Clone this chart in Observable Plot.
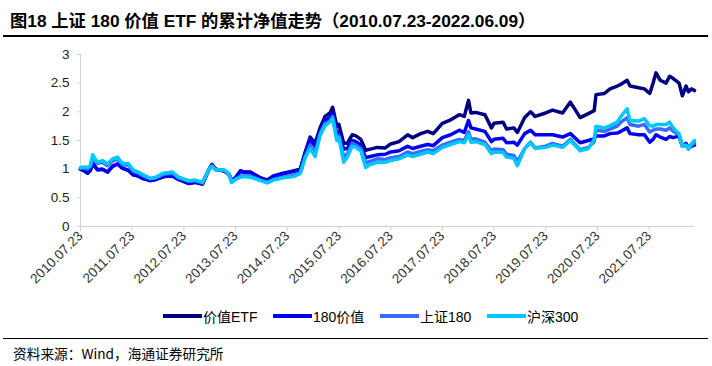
<!DOCTYPE html>
<html>
<head>
<meta charset="utf-8">
<script src="https://cdn.jsdelivr.net/npm/d3@7"></script>
<script src="https://cdn.jsdelivr.net/npm/@observablehq/plot@0.6"></script>
<style>
  html, body { margin: 0; padding: 0; background: #fff; }
  #page { position: relative; width: 712px; height: 366px; overflow: hidden; font-family: "Liberation Sans", Arial, "Noto Sans CJK SC", sans-serif; }
  #title { position: absolute; left: 10px; top: 7px; font-size: 17.3px; font-weight: bold; color: #000; white-space: nowrap; font-family: "Liberation Sans", Arial, "Noto Sans CJK SC", sans-serif; }
  #topline { position: absolute; left: 3px; right: 4px; top: 35px; height: 0; border-top: 2px solid #000; }
  #chart { position: absolute; left: 0; top: 0; }
  .leg { position: absolute; top: 308px; height: 16px; display: flex; align-items: center; font-size: 14px; color: #000; white-space: nowrap; font-family: "Liberation Sans", Arial, "Noto Sans CJK SC", sans-serif; }
  .sw { width: 39px; height: 4px; margin-right: 1px; }
  #botline { position: absolute; left: 3px; right: 4px; top: 338px; height: 0; border-top: 1.5px solid #000; }
  #source { position: absolute; left: 13px; top: 343px; font-size: 13.7px; color: #000; white-space: nowrap; font-family: "Noto Sans CJK SC", "Liberation Sans", sans-serif; }
</style>
</head>
<body>
<div id="page">
  <div id="title">图18 上证 180 价值 ETF 的累计净值走势（2010.07.23-2022.06.09）</div>
  <div id="topline"></div>
  <div id="chart"></div>
  <div id="legend"></div>
  <div id="botline"></div>
  <div id="source">资料来源：Wind，海通证券研究所</div>
</div>
<script>
const seriesNames = ["价值ETF", "180价值", "上证180", "沪深300"];
const seriesColors = ["#000080", "#0000F0", "#3A6BFF", "#00C8FF"];
const xTickDates = ["2010-07-23","2011-07-23","2012-07-23","2013-07-23","2014-07-23","2015-07-23","2016-07-23","2017-07-23","2018-07-23","2019-07-23","2020-07-23","2021-07-23"];
const yTicks = [0, 0.5, 1, 1.5, 2, 2.5, 3];

const dates = [
"2010-07-23","2010-08-20","2010-09-10","2010-10-01","2010-10-17","2010-11-20","2010-12-25","2011-01-30","2011-03-06","2011-04-10",
"2011-05-15","2011-06-26","2011-08-01","2011-09-05","2011-10-03","2011-11-30","2012-01-04","2012-03-01","2012-05-03","2012-06-15",
"2012-08-24","2012-10-12","2012-12-01","2013-01-13","2013-02-06","2013-03-03","2013-04-30","2013-06-04","2013-06-25","2013-07-23",
"2013-08-27","2013-09-20","2013-11-05","2014-01-14","2014-03-04","2014-04-16","2014-06-25","2014-09-04","2014-10-23","2014-11-27",
"2015-01-01","2015-02-05","2015-03-12","2015-04-16","2015-05-21","2015-06-09","2015-07-08","2015-07-23","2015-08-26","2015-09-20",
"2015-10-25","2015-11-20","2015-12-25","2016-01-28","2016-03-01","2016-04-20","2016-06-15","2016-07-23","2016-09-20","2016-11-20",
"2016-12-25","2017-02-20","2017-04-10","2017-05-20","2017-07-23","2017-09-20","2017-11-20","2017-12-25","2018-01-24","2018-02-10",
"2018-03-15","2018-05-20","2018-07-05","2018-07-23","2018-09-25","2018-10-20","2018-12-10","2019-01-04","2019-02-25","2019-04-08",
"2019-05-10","2019-07-23","2019-09-10","2019-11-20","2020-01-14","2020-03-23","2020-05-20","2020-06-30","2020-07-13","2020-09-10",
"2020-10-20","2020-12-10","2021-01-05","2021-02-18","2021-03-10","2021-05-10","2021-06-20","2021-07-28","2021-08-20","2021-09-10",
"2021-10-10","2021-11-20","2021-12-15","2022-01-10","2022-02-20","2022-03-15","2022-04-10","2022-04-27","2022-05-20","2022-06-09"
];

const etf = [
1.00,0.97,0.93,0.98,1.10,0.99,1.00,0.95,1.05,1.09,
1.02,0.98,0.90,0.88,0.84,0.80,0.82,0.87,0.88,0.82,
0.75,0.77,0.74,0.98,1.08,1.00,0.97,0.92,0.80,0.85,
0.97,0.95,0.95,0.85,0.81,0.88,0.93,0.97,1.00,1.30,
1.56,1.45,1.72,1.92,1.98,2.08,1.75,1.78,1.45,1.45,
1.60,1.58,1.52,1.33,1.35,1.38,1.37,1.44,1.48,1.60,
1.55,1.62,1.66,1.62,1.80,1.86,1.95,1.92,2.20,1.98,
1.99,1.95,1.72,1.80,1.82,1.70,1.72,1.64,1.90,2.00,
1.92,1.98,2.03,1.98,2.17,1.90,1.97,2.02,2.30,2.32,
2.40,2.45,2.48,2.55,2.45,2.42,2.40,2.32,2.50,2.68,
2.55,2.50,2.62,2.58,2.50,2.28,2.45,2.35,2.40,2.37
];

const v180 = [
1.00,0.97,0.93,0.98,1.10,0.99,1.00,0.95,1.05,1.09,
1.02,0.98,0.90,0.88,0.84,0.80,0.82,0.87,0.88,0.82,
0.75,0.77,0.74,0.98,1.08,1.00,0.97,0.92,0.80,0.85,
0.97,0.94,0.94,0.84,0.80,0.87,0.92,0.96,0.99,1.28,
1.52,1.40,1.66,1.85,1.90,1.98,1.62,1.65,1.35,1.36,
1.50,1.48,1.42,1.20,1.22,1.25,1.26,1.30,1.32,1.40,
1.36,1.40,1.43,1.41,1.55,1.60,1.68,1.64,1.85,1.72,
1.70,1.66,1.48,1.52,1.54,1.46,1.47,1.42,1.62,1.68,
1.60,1.60,1.60,1.56,1.62,1.46,1.50,1.53,1.58,1.58,
1.62,1.63,1.66,1.72,1.62,1.60,1.60,1.47,1.52,1.60,
1.56,1.52,1.57,1.55,1.58,1.40,1.45,1.38,1.40,1.42
];

const sz180 = [
1.02,1.02,1.00,1.05,1.20,1.10,1.12,1.06,1.14,1.18,
1.08,1.07,0.96,0.93,0.89,0.83,0.85,0.91,0.93,0.85,
0.79,0.80,0.76,0.98,1.06,0.99,0.98,0.92,0.78,0.83,
0.88,0.88,0.88,0.81,0.77,0.82,0.86,0.89,0.94,1.22,
1.42,1.28,1.62,1.80,1.84,1.92,1.55,1.58,1.22,1.26,
1.45,1.42,1.36,1.11,1.14,1.18,1.17,1.20,1.22,1.30,
1.27,1.31,1.34,1.32,1.42,1.47,1.52,1.50,1.65,1.52,
1.53,1.47,1.32,1.35,1.34,1.26,1.24,1.13,1.36,1.47,
1.37,1.40,1.45,1.40,1.52,1.34,1.38,1.48,1.68,1.66,
1.70,1.75,1.82,1.90,1.78,1.75,1.78,1.65,1.68,1.70,
1.70,1.68,1.72,1.66,1.60,1.40,1.42,1.35,1.42,1.45
];

const hs300 = [
1.03,1.04,1.03,1.06,1.25,1.12,1.15,1.09,1.18,1.21,
1.10,1.10,0.98,0.95,0.91,0.84,0.86,0.93,0.95,0.86,
0.80,0.81,0.77,0.98,1.05,0.99,0.99,0.93,0.77,0.82,
0.86,0.87,0.86,0.80,0.76,0.81,0.85,0.87,0.92,1.20,
1.36,1.22,1.59,1.76,1.82,1.88,1.50,1.55,1.12,1.21,
1.40,1.38,1.32,1.03,1.08,1.12,1.12,1.15,1.18,1.25,
1.22,1.26,1.30,1.27,1.38,1.43,1.48,1.46,1.60,1.47,
1.48,1.43,1.27,1.30,1.29,1.21,1.19,1.06,1.36,1.46,
1.36,1.38,1.42,1.38,1.50,1.32,1.36,1.52,1.75,1.72,
1.76,1.82,1.92,2.05,1.85,1.84,1.88,1.76,1.75,1.78,
1.78,1.78,1.82,1.72,1.62,1.40,1.42,1.36,1.45,1.50
];

const valueArrays = [etf, v180, sz180, hs300];
const parse = d3.utcParse("%Y-%m-%d");
const rows = [];
valueArrays.forEach((arr, s) => {
  arr.forEach((v, i) => rows.push({date: parse(dates[i]), value: v, series: seriesNames[s]}));
});
const xTicks = xTickDates.map(parse);
const fmt = d3.utcFormat("%Y.%m.%d");

const chart = Plot.plot({
  width: 712,
  height: 300,
  marginTop: 54,
  marginBottom: 74,
  marginLeft: 80,
  marginRight: 18,
  style: {fontFamily: "Liberation Sans, Arial, sans-serif", background: "transparent", overflow: "visible"},
  x: {type: "utc", domain: [parse("2010-07-23"), parse("2022-06-09")]},
  y: {domain: [0, 3]},
  color: {domain: seriesNames, range: seriesColors},
  marks: [
    Plot.ruleX([parse("2010-07-23")], {y1: 0, y2: 3, stroke: "#d0d0d0", strokeWidth: 1}),
    Plot.ruleY([0], {stroke: "#d0d0d0", strokeWidth: 1}),
    Plot.axisY({ticks: yTicks, tickFormat: d => String(d), tickSize: 3, tickPadding: 8, stroke: "#d0d0d0", fontSize: 13.5, fill: "#222", label: null}),
    Plot.axisX({ticks: xTicks, tickFormat: fmt, tickRotate: -45, tickSize: 5, tickPadding: 2, stroke: "#d0d0d0", fontSize: 13.5, fill: "#333", label: null}),
    Plot.lineY(rows, {x: "date", y: "value", z: "series", stroke: "series", strokeWidth: 3.5, strokeLinejoin: "round", curve: "linear"})
  ]
});
document.getElementById("chart").appendChild(chart);

const legendX = [163, 273, 380, 487];
const legend = document.getElementById("legend");
seriesNames.forEach((name, i) => {
  const item = document.createElement("div");
  item.className = "leg";
  item.style.left = legendX[i] + "px";
  const sw = document.createElement("div");
  sw.className = "sw";
  sw.style.background = seriesColors[i];
  item.appendChild(sw);
  const t = document.createElement("span");
  t.textContent = name;
  item.appendChild(t);
  legend.appendChild(item);
});
</script>
</body>
</html>
